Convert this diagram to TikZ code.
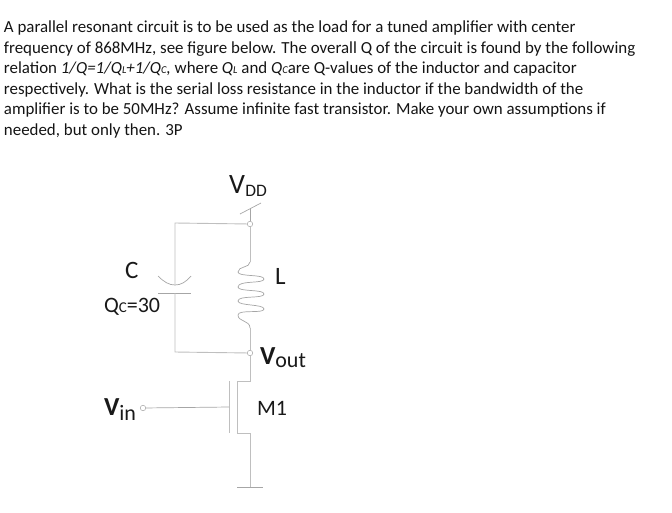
\documentclass[tikz,border=0pt]{standalone}
\usepackage{fontspec}
\setmainfont{Carlito}
\newcommand{\smq}[1]{{\fontsize{10.5}{10}\selectfont\raisebox{-0.3pt}{#1}}}
\tikzset{
  x=1pt,y=-1pt,
  body/.style={anchor=base west,inner sep=0pt,outer sep=0pt,font=\fontsize{16.9}{20}\selectfont,text=black!92},
  lab/.style={anchor=base west,inner sep=0pt,outer sep=0pt,font=\fontsize{22}{25}\selectfont,text=black!90},
  wire/.style={draw=black!25,line width=0.9pt},
  thin wire/.style={draw=black!35,line width=0.7pt},
  term/.style={circle,draw=black!30,fill=white,line width=0.6pt,minimum size=5.5pt,inner sep=0pt,outer sep=0pt}
}
\begin{document}
\begin{tikzpicture}
\useasboundingbox (0,0) rectangle (672,512);
\node[body] (t1) at (4,32.5) {A parallel resonant circuit is to be used as the load for a tuned amplifier with center};
\node[body] (t2) at (4,53) {frequency of 868MHz, see figure below. The overall Q of the circuit is found by the following};
\node[body] (t3) at (4,73.3) {relation \textit{1/Q=1/Q\smq{L}+1/Q\smq{C},} where \textit{Q\smq{L}} and \textit{Q\smq{C}}are Q-values of the inductor and capacitor};
\node[body] (t4) at (4,94) {respectively. What is the serial loss resistance in the inductor if the bandwidth of the};
\node[body] (t5) at (4,114.3) {amplifier is to be 50MHz? Assume infinite fast transistor. Make your own assumptions if};
\node[body] (t6) at (4,135) {needed, but only then. 3P};

\node[lab,font=\fontsize{28}{30}\selectfont] (vdd) at (229,193) {V\kern0.5pt\raisebox{-3pt}{\fontsize{17.5}{18}\selectfont DD}};
\node[lab,font=\fontsize{25}{28}\selectfont] (clab) at (125,278) {C};
\node[lab] (qclab) at (104,312) {Q{\fontsize{15}{14}\selectfont C}=30};
\node[lab,font=\fontsize{25}{28}\selectfont] (llab) at (275,284) {L};
\node[lab,font=\fontsize{26}{28}\selectfont] (vout) at (260,364) {\textbf{V}\raisebox{-3.5pt}{\fontsize{22}{24}\selectfont out}};
\node[lab,font=\fontsize{26}{28}\selectfont] (vin) at (104,415) {\textbf{V}\raisebox{-5pt}{\fontsize{22}{24}\selectfont in}};
\node[lab] (m1) at (257,415) {M1};

\node[term] (top) at (250,224) {};
\node[term] (mid) at (250,353) {};
\node[term] (gate) at (143,408) {};
\coordinate (vt) at (250,209);
\coordinate (vb1) at (240,214);
\coordinate (vb2) at (261,203);
\coordinate (ctl) at (175,223);
\coordinate (cbl) at (175,352);
\coordinate (arcb) at (175,285);
\coordinate (arcl) at (158,276);
\coordinate (arcr) at (191,276);
\coordinate (pt) at (175,293);
\coordinate (pl) at (158,293);
\coordinate (pr) at (191,293);
\coordinate (ls) at (250,262);
\coordinate (le) at (250,328);
\coordinate (dt) at (250,381);
\coordinate (dc) at (237,381);
\coordinate (sc) at (237,433);
\coordinate (st) at (250,433);
\coordinate (gnd) at (250,487);
\coordinate (gl) at (237,487);
\coordinate (gr) at (263,487);
\coordinate (gb) at (229,407);
\coordinate (gbt) at (229,381);
\coordinate (gbb) at (229,433);

\draw[thin wire] (vb1) -- (vb2);
\draw[thin wire] (vt) -- (top);
\draw[wire] (top) -- (ctl) -- (arcb);
\draw[thin wire] (arcl) .. controls (164,282) and (169,285) .. (arcb) .. controls (181,285) and (186,282) .. (arcr);
\draw[thin wire] (pl) -- (pr);
\draw[wire] (pt) -- (cbl) -- (mid);
\draw[wire] (top) -- (ls);
\draw[thin wire] (ls) .. controls (250,268) and (238,266) .. (238,272)
  .. controls (238,277) and (264,274) .. (264,279)
  .. controls (264,284) and (238,280) .. (238,287)
  .. controls (238,292) and (264,289) .. (264,294)
  .. controls (264,299) and (238,295) .. (238,301)
  .. controls (238,306) and (264,304) .. (264,309)
  .. controls (264,314) and (238,309) .. (238,315)
  .. controls (238,322) and (250,320) .. (le);
\draw[wire] (le) -- (mid);
\draw[wire] (mid) -- (dt) -- (dc) -- (sc) -- (st) -- (gnd);
\draw[thin wire] (gl) -- (gr);
\draw[wire] (gbt) -- (gbb);
\draw[thin wire] (gate) -- (gb);
\end{tikzpicture}
\end{document}
